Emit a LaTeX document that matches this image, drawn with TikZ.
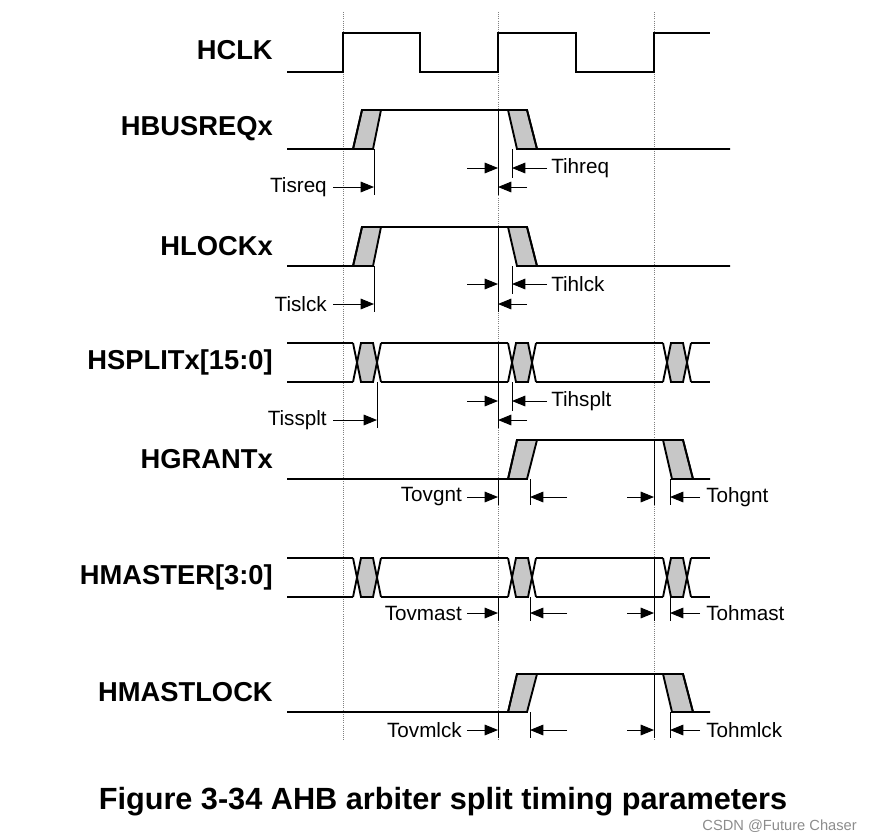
\documentclass[tikz,border=0pt]{standalone}
\usepackage{fontspec}
\setmainfont{Liberation Sans}
\usetikzlibrary{arrows.meta}
\begin{document}
\begin{tikzpicture}[x=0.75pt,y=-0.75pt,
  sig/.style={line width=1.4pt,line join=miter},
  shd/.style={fill=black!22,draw=black,line width=1.4pt},
  dot/.style={densely dotted,black!50,line width=0.6pt},
  vl/.style={line width=0.6pt},
  arr/.style={line width=0.7pt,-{Triangle[length=10pt,width=8pt]}},
  lab/.style={font=\bfseries\fontsize{20.5}{20.5}\selectfont,anchor=east,inner sep=0pt},
  tl/.style={font=\fontsize{15.5}{15.5}\selectfont,inner sep=0pt}]
\useasboundingbox (0,0) rectangle (873,832);
% clock edge guides
\foreach \x in {343,498,654} \draw[dot] (\x,12) -- (\x,740);
% labels
\node[lab] (lclk) at (273,50) {HCLK};
\node[lab] (lreq) at (273,129) {HBUSREQx};
\node[lab] (llck) at (273,246) {HLOCKx};
\node[lab] (lspl) at (273,362) {HSPLITx[15:0]};
\node[lab] (lgnt) at (273,459) {HGRANTx};
\node[lab] (lmst) at (273,577) {HMASTER[3:0]};
\node[lab] (lml) at (273,692) {HMASTLOCK};
% HCLK
\draw[sig] (287,72)--(343,72)--(343,33)--(420,33)--(420,72)--(498,72)--(498,33)--(576,33)--(576,72)--(654,72)--(654,33)--(710,33);
% HBUSREQx, HLOCKx
\foreach \t/\b in {110/149,227/266}{
  \draw[shd] (353,\b)--(373,\b)--(381,\t)--(362,\t)--cycle;
  \draw[shd] (508,\t)--(527,\t)--(537,\b)--(517,\b)--cycle;
  \draw[sig] (287,\b)--(353,\b)--(362,\t)--(527,\t)--(537,\b)--(730,\b);
}
% HGRANTx, HMASTLOCK
\foreach \t/\b in {440/479,674/712}{
  \draw[shd] (508,\b)--(527,\b)--(537,\t)--(517,\t)--cycle;
  \draw[shd] (663,\t)--(683,\t)--(693,\b)--(672,\b)--cycle;
  \draw[sig] (287,\b)--(508,\b)--(517,\t)--(683,\t)--(693,\b)--(710,\b);
}
% buses
\foreach \t/\b in {343/382,558/597}{
  \pgfmathsetmacro\m{(\t+\b)/2}
  \foreach \a in {353,508,663}{
    \fill[black!22] (\a+4,\m)--(\a+8,\t)--(\a+20,\t)--(\a+24,\m)--(\a+20,\b)--(\a+8,\b)--cycle;
    \draw[sig] (\a,\t)--(\a+8,\b)--(\a+20,\b)--(\a+28,\t);
    \draw[sig] (\a,\b)--(\a+8,\t)--(\a+20,\t)--(\a+28,\b);
  }
  \draw[sig] (287,\t)--(353,\t) (381,\t)--(508,\t) (536,\t)--(663,\t) (691,\t)--(710,\t);
  \draw[sig] (287,\b)--(353,\b) (381,\b)--(508,\b) (536,\b)--(663,\b) (691,\b)--(710,\b);
}
% input timing
\foreach \ya/\yb/\vx/\top/\bot/\nm/\nh in {168/187/374/110/149/Tisreq/Tihreq,284/304/374/227/266/Tislck/Tihlck,401/420/377/343/382/Tissplt/Tihsplt}{
  \draw[vl] (\vx,\bot)--(\vx,\yb+8);
  \draw[vl] (498,\top)--(498,\yb+8);
  \draw[vl] (512,\bot)--(512,\ya+10);
  \node[tl,anchor=east] (s\nm) at (327,\yb) {\nm};
  \coordinate (a\nm) at (333,\yb);
  \coordinate (b\nm) at (\vx,\yb);
  \draw[arr] (a\nm)--(b\nm);
  \draw[arr] (467,\ya)--(498,\ya);
  \node[tl,anchor=west] (h\nh) at (551,\ya) {\nh};
  \draw[arr] (547,\ya)--(512,\ya);
  \draw[arr] (527,\yb)--(498,\yb);
}
% output timing
\foreach \y/\top/\bot/\nv/\nh in {497/440/479/Tovgnt/Tohgnt,613/558/597/Tovmast/Tohmast,730/674/712/Tovmlck/Tohmlck}{
  \draw[vl] (498,\bot)--(498,\y+8);
  \draw[vl] (530,\bot)--(530,\y+8);
  \draw[vl] (654,\top)--(654,\y+8);
  \draw[vl] (670,\bot)--(670,\y+8);
  \node[tl,anchor=east] (v\nv) at (462,\y) {\nv};
  \node[tl,anchor=west] (o\nh) at (706,\y) {\nh};
  \draw[arr] (467,\y)--(498,\y);
  \draw[arr] (567,\y)--(530,\y);
  \draw[arr] (627,\y)--(654,\y);
  \draw[arr] (700,\y)--(670,\y);
}
\node[font=\bfseries\fontsize{23}{23}\selectfont,inner sep=0pt] (cap) at (443,802) {Figure 3-34 AHB arbiter split timing parameters};
\node[font=\fontsize{11}{11}\selectfont,text=black!45,anchor=east,inner sep=0pt] (wm) at (857,826) {CSDN @Future Chaser};
\end{tikzpicture}
\end{document}
